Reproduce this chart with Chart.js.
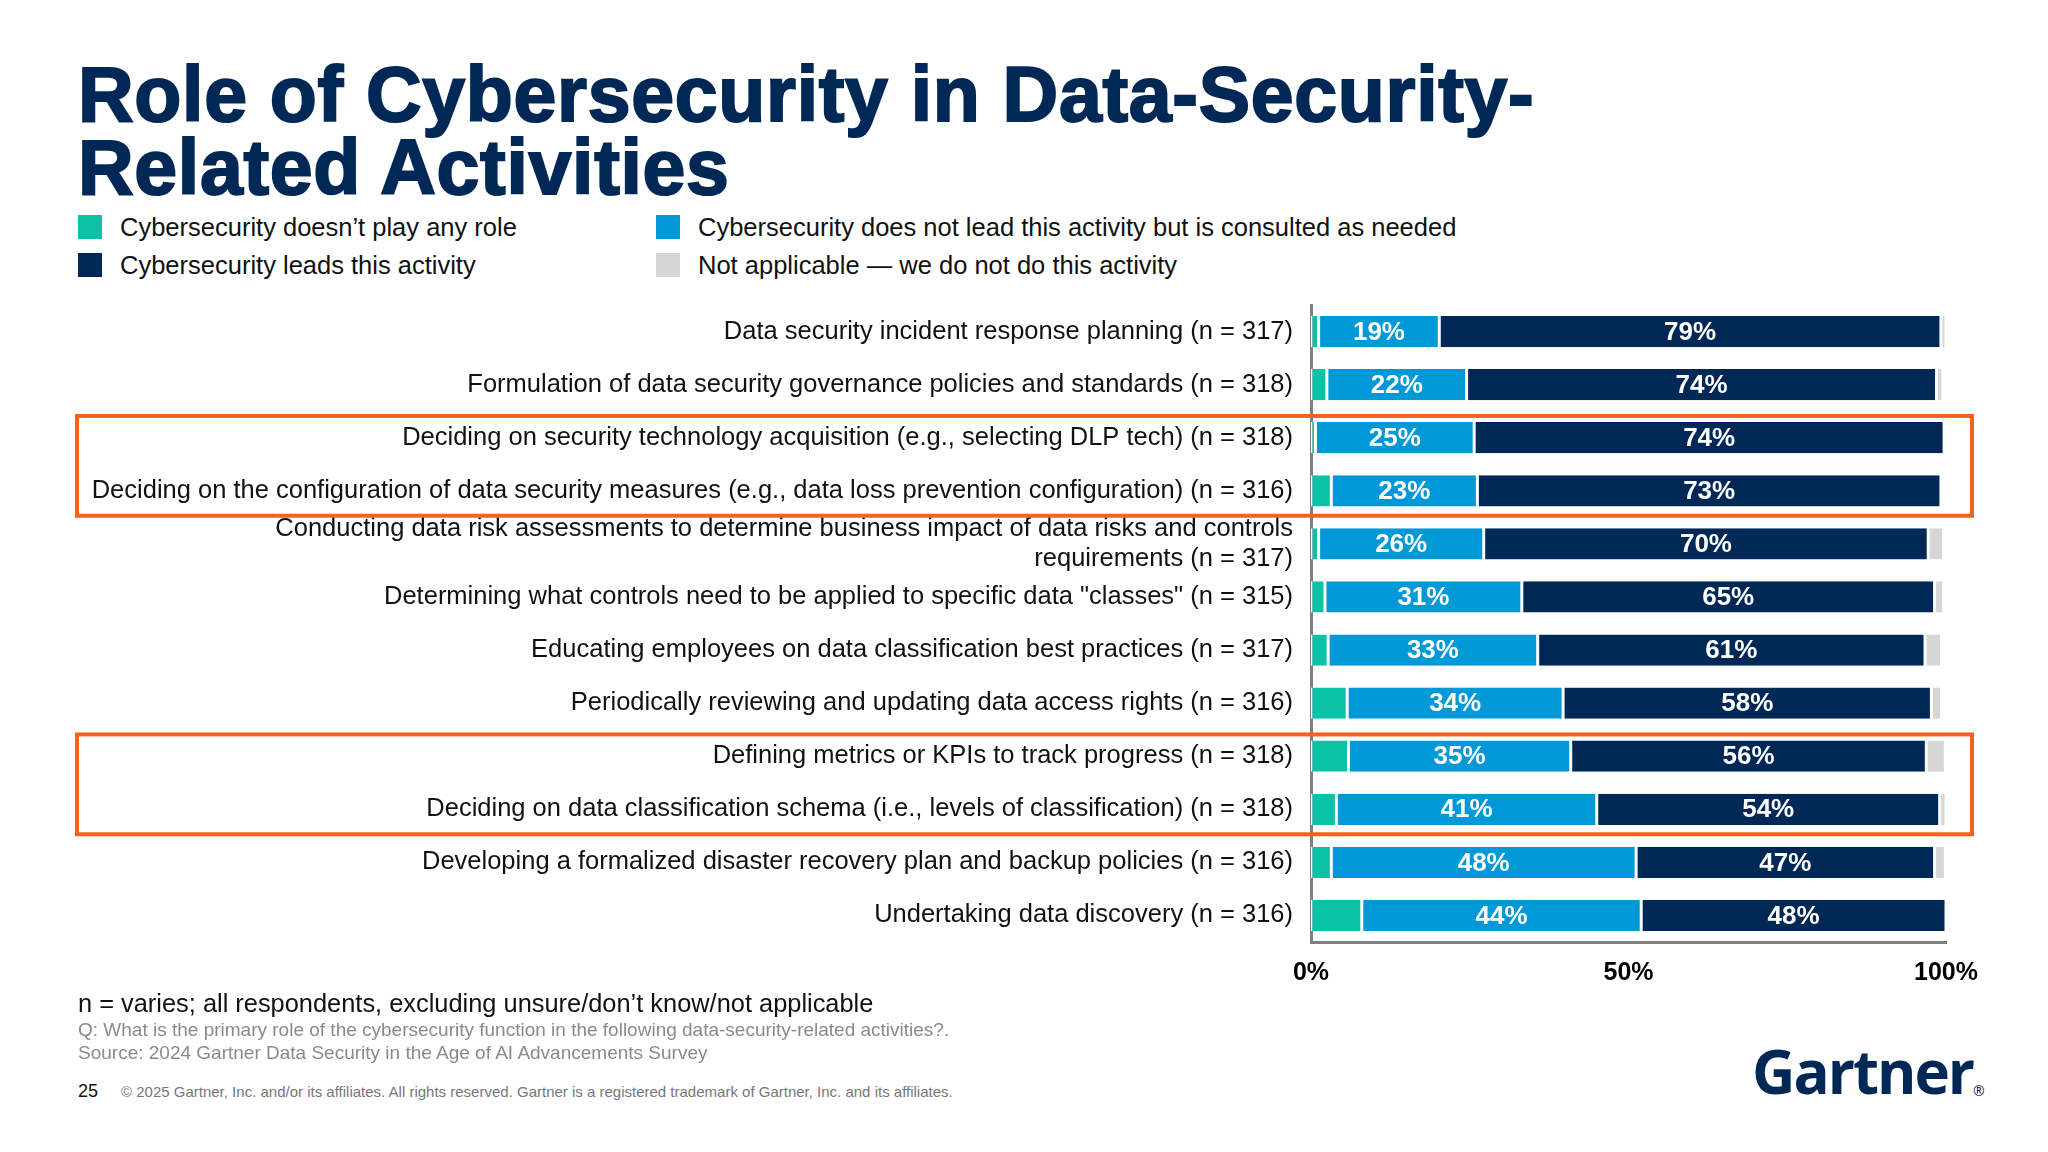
<!DOCTYPE html>
<html>
<head>
<meta charset="utf-8">
<script src="https://cdn.jsdelivr.net/npm/chart.js@4"></script>
<style>
  html, body { margin: 0; padding: 0; background: #fff; }
  body { width: 2048px; height: 1152px; position: relative; overflow: hidden; font-family: 'Liberation Sans', Arial, sans-serif; }
  #title { position: absolute; left: 78px; top: 58px; margin: 0; font-size: 77px; line-height: 73px; font-weight: bold; color: #002856; -webkit-text-stroke: 2px #002856; letter-spacing: 0.7px; }
  #legend { position: absolute; left: 78px; top: 215px; display: grid; grid-template-columns: 578px auto; row-gap: 14px; }
  .item { display: flex; align-items: center; height: 24px; font-size: 25.5px; color: #111; }
  .swatch { width: 24px; height: 24px; margin-right: 18px; }
  #chartBox { position: absolute; left: 0; top: 292px; }
  .foot { position: absolute; left: 78px; white-space: nowrap; }
  #note { top: 989px; font-size: 25.4px; color: #111; }
  #q { top: 1019px; font-size: 19px; color: #8a8a8a; }
  #src { top: 1042px; font-size: 19px; color: #8a8a8a; }
  #page { top: 1081px; font-size: 18px; color: #111; }
  #copy { left: 121px; top: 1083px; font-size: 15px; color: #777; }
  #logo { position: absolute; left: 1752px; top: 1036px; font-family: 'Open Sans', sans-serif; font-weight: 700; font-size: 60px; line-height: 70px; color: #002856; letter-spacing: -2px; }
  #logo sup { font-size: 14px; font-weight: 400; letter-spacing: 0; vertical-align: -2px; }
</style>
</head>
<body>
<h1 id="title">Role of Cybersecurity in Data-Security-<br>Related Activities</h1>
<div id="legend"></div>
<div id="chartBox"><canvas id="chart" width="2048" height="700"></canvas></div>
<div class="foot" id="note">n = varies; all respondents, excluding unsure/don’t know/not applicable</div>
<div class="foot" id="q">Q: What is the primary role of the cybersecurity function in the following data-security-related activities?.</div>
<div class="foot" id="src">Source: 2024 Gartner Data Security in the Age of AI Advancements Survey</div>
<div class="foot" id="page">25</div>
<div class="foot" id="copy">© 2025 Gartner, Inc. and/or its affiliates. All rights reserved. Gartner is a registered trademark of Gartner, Inc. and its affiliates.</div>
<div id="logo">Gartner<sup>®</sup></div>
<script>
const categories = [
    'Data security incident response planning (n = 317)',
    'Formulation of data security governance policies and standards (n = 318)',
    'Deciding on security technology acquisition (e.g., selecting DLP tech) (n = 318)',
    'Deciding on the configuration of data security measures (e.g., data loss prevention configuration) (n = 316)',
    ['Conducting data risk assessments to determine business impact of data risks and controls', 'requirements (n = 317)'],
    'Determining what controls need to be applied to specific data "classes" (n = 315)',
    'Educating employees on data classification best practices (n = 317)',
    'Periodically reviewing and updating data access rights (n = 316)',
    'Defining metrics or KPIs to track progress (n = 318)',
    'Deciding on data classification schema (i.e., levels of classification) (n = 318)',
    'Developing a formalized disaster recovery plan and backup policies (n = 316)',
    'Undertaking data discovery (n = 316)'
];

// values in %, small segments
const noRole = [1.2, 2.5, 0.7, 3.2, 1.2, 2.2, 2.7, 5.7, 5.9, 4, 3.2, 8];
const consulted = [19, 22, 25, 23, 26, 31, 33, 34, 35, 41, 48, 44];
const leads = [79, 74, 74, 73, 70, 65, 61, 58, 56, 54, 47, 48];
const notApplicable = [0.8, 1, 0, 0.4, 2.4, 1.4, 2.6, 1.6, 3, 1, 1.7, 0];

const seriesNames = [
    'Cybersecurity doesn’t play any role',
    'Cybersecurity does not lead this activity but is consulted as needed',
    'Cybersecurity leads this activity',
    'Not applicable — we do not do this activity'
];
const seriesColors = ['#0BC2A6', '#0098D6', '#002856', '#D6D6D6'];
const labelledSeries = [1, 2];
const legendOrder = [0, 1, 2, 3];

const xTicks = [0, 50, 100];
const highlightRows = [[2, 3], [8, 9]];

// legend
const legendEl = document.getElementById('legend');
legendOrder.forEach(i => {
    const item = document.createElement('div');
    item.className = 'item';
    item.innerHTML = '<span class="swatch" style="background:' + seriesColors[i] + '"></span>' + seriesNames[i];
    legendEl.appendChild(item);
});

const seriesData = [noRole, consulted, leads, notApplicable];

const barLabels = {
    id: 'barLabels',
    afterDatasetsDraw(chart) {
        const ctx = chart.ctx;
        ctx.save();
        ctx.font = 'bold 26px "Liberation Sans", Arial, sans-serif';
        ctx.fillStyle = '#ffffff';
        ctx.textAlign = 'center';
        ctx.textBaseline = 'middle';
        labelledSeries.forEach(di => {
            chart.getDatasetMeta(di).data.forEach((bar, i) => {
                const v = chart.data.datasets[di].data[i];
                const cx = (bar.x + bar.base) / 2;
                ctx.fillText(Math.round(v) + '%', cx, bar.y + 1);
            });
        });

        // orange highlight boxes
        const y = chart.scales.y;
        const rowH = y.getPixelForValue(1) - y.getPixelForValue(0);
        ctx.strokeStyle = '#F5621E';
        ctx.lineWidth = 4;
        highlightRows.forEach(([a, b]) => {
            const top = y.getPixelForValue(a) - rowH * 0.41;
            const bottom = y.getPixelForValue(b) + rowH * 0.47;
            ctx.strokeRect(77, top, chart.chartArea.right + 26 - 77, bottom - top);
        });
        ctx.restore();
    }
};

const ctx = document.getElementById('chart').getContext('2d');
new Chart(ctx, {
    type: 'bar',
    data: {
        labels: categories,
        datasets: seriesData.map((d, i) => ({
            label: seriesNames[i],
            data: d,
            backgroundColor: seriesColors[i],
            borderColor: '#ffffff',
            borderWidth: { left: 1.5, right: 1.5, top: 0, bottom: 0 },
            borderSkipped: false,
            barPercentage: 0.59,
            categoryPercentage: 1
        }))
    },
    options: {
        indexAxis: 'y',
        responsive: false,
        animation: false,
        devicePixelRatio: 1,
        layout: { padding: { top: 13, right: 102, left: 0, bottom: 0 } },
        plugins: {
            legend: { display: false },
            tooltip: { enabled: false }
        },
        scales: {
            x: {
                stacked: true,
                min: 0,
                max: 100,
                afterFit: (scale) => {
                    scale.height = 50;
                    scale.paddingLeft = 0;
                    scale.paddingRight = 0;
                },
                afterBuildTicks: (scale) => { scale.ticks = xTicks.map(v => ({ value: v })); },
                grid: { display: false, drawTicks: false },
                border: { display: true, color: '#808080', width: 3 },
                ticks: {
                    padding: 16,
                    color: '#000',
                    font: { family: '"Liberation Sans", Arial, sans-serif', size: 25, weight: 'bold' },
                    callback: (v) => v + '%'
                }
            },
            y: {
                stacked: true,
                afterFit: (scale) => {
                    scale.width = 1311;
                    scale.paddingTop = 0;
                    scale.paddingBottom = 0;
                },
                grid: { display: false, drawTicks: false },
                border: { display: true, color: '#808080', width: 3 },
                ticks: {
                    padding: 18,
                    autoSkip: false,
                    color: '#111',
                    font: { family: '"Liberation Sans", Arial, sans-serif', size: 25.5, lineHeight: 1.2 }
                }
            }
        }
    },
    plugins: [barLabels]
});
</script>
</body>
</html>
